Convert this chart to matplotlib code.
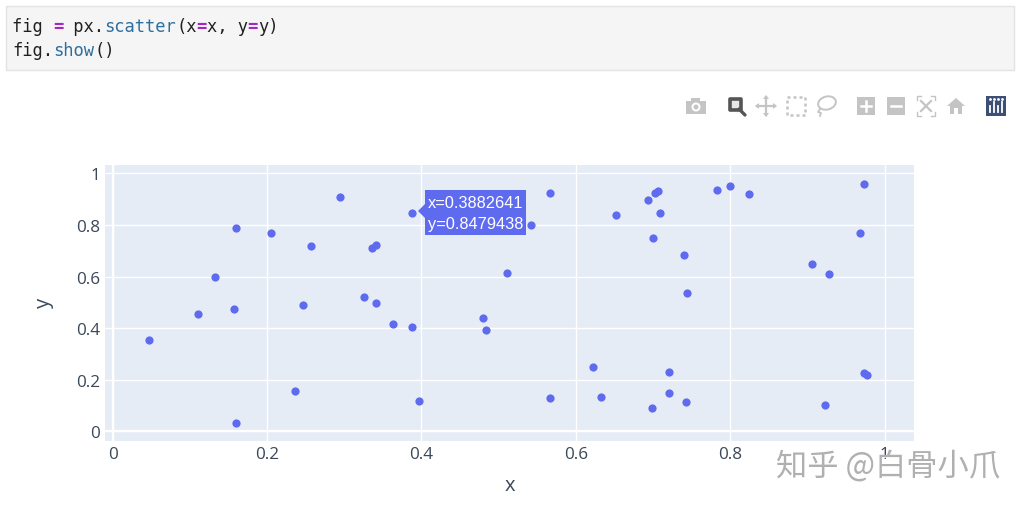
import matplotlib
matplotlib.use("Agg")
import matplotlib.pyplot as plt
from matplotlib.patches import Rectangle, Circle, Polygon, Ellipse

# values
x = [0.047, 0.110, 0.133, 0.157, 0.160, 0.160, 0.205, 0.236, 0.247, 0.257,
     0.295, 0.325, 0.336, 0.341, 0.341, 0.363, 0.388, 0.3882641, 0.397, 0.480,
     0.483, 0.511, 0.542, 0.566, 0.567, 0.622, 0.633, 0.652, 0.694, 0.698,
     0.700, 0.703, 0.707, 0.709, 0.720, 0.721, 0.740, 0.743, 0.744, 0.783,
     0.800, 0.824, 0.906, 0.923, 0.928, 0.968, 0.973, 0.973, 0.977]
y = [0.355, 0.455, 0.600, 0.475, 0.787, 0.033, 0.767, 0.158, 0.490, 0.717,
     0.907, 0.520, 0.710, 0.723, 0.498, 0.417, 0.405, 0.8479438, 0.118, 0.440,
     0.393, 0.615, 0.798, 0.925, 0.130, 0.250, 0.133, 0.840, 0.897, 0.090,
     0.750, 0.925, 0.933, 0.847, 0.230, 0.148, 0.685, 0.115, 0.538, 0.937,
     0.950, 0.920, 0.650, 0.103, 0.610, 0.767, 0.957, 0.228, 0.220]

x_ticks = [0, 0.2, 0.4, 0.6, 0.8, 1]
y_ticks = [0, 0.2, 0.4, 0.6, 0.8, 1]
tick_labels = ["0", "0.2", "0.4", "0.6", "0.8", "1"]

code_line1 = [("fig ", "#212121"), ("=", "#a626c4"), (" px.", "#212121"), ("scatter", "#2f6f9f"),
              ("(x", "#212121"), ("=", "#a626c4"), ("x, y", "#212121"), ("=", "#a626c4"), ("y)", "#212121")]
code_line2 = [("fig.", "#212121"), ("show", "#2f6f9f"), ("()", "#212121")]

W, H = 1024, 510
BLUE = "#5f6bef"
INK = "#3a4859"
GREY = "#c4c4c4"

fig = plt.figure(figsize=(W / 100, H / 100), dpi=100, facecolor="white")

# plot area
ax = fig.add_axes([105 / W, 1 - 442 / H, 809 / W, 276 / H], facecolor="#e5ecf6")
ax.scatter(x, y, s=35, color=BLUE, linewidths=0, zorder=3)
ax.set_xlim(-0.0100, 1.0380)
ax.set_ylim(-0.0375, 1.0325)
ax.set_xticks(x_ticks, tick_labels)
ax.set_yticks(y_ticks, tick_labels)
ax.grid(True, color="white", linewidth=1)
ax.set_axisbelow(True)
ax.axhline(0, color="white", linewidth=1.6, zorder=1)
ax.axvline(0, color="white", linewidth=1.6, zorder=1)
ax.tick_params(length=0, labelsize=12.3, labelcolor=INK, pad=3.5)
for lab in ax.get_xticklabels() + ax.get_yticklabels():
    lab.set_family("Open Sans")
for s in ax.spines.values():
    s.set_visible(False)

# everything else in pixel coordinates
ui = fig.add_axes([0, 0, 1, 1], zorder=5)
ui.set_xlim(0, W)
ui.set_ylim(H, 0)
ui.axis("off")

ui.add_patch(Rectangle((5.5, 6.5), 1008, 64, facecolor="#f5f5f5", edgecolor="#e3e3e3", linewidth=1))


def code_text(parts, y_pos):
    col = 0
    for txt, c in parts:
        ui.text(12 + 10.25 * col, y_pos, txt, family="DejaVu Sans Mono", fontsize=12.3,
                color=c, va="baseline", fontweight="bold" if txt == "=" else "normal")
        col += len(txt)


code_text(code_line1, 32)
code_text(code_line2, 56)

ui.text(510, 486, "x", family="Open Sans", fontsize=14.5, color=INK, ha="center", va="center")
ui.text(44, 303, "y", family="Open Sans", fontsize=14.5, color=INK, ha="center", va="center", rotation=90)

# hover label
ui.add_patch(Polygon([(418, 212), (425, 205), (425, 191), (526, 191), (526, 236), (425, 236), (425, 219)],
                     facecolor=BLUE, edgecolor="none"))
ui.text(428, 204, "x=0.3882641", family="Liberation Sans", fontsize=11.8, color="white", va="center")
ui.text(428, 225, "y=0.8479438", family="Liberation Sans", fontsize=11.8, color="white", va="center")

# modebar: camera
ui.add_patch(Rectangle((686, 102), 20, 13, facecolor=GREY, edgecolor="none"))
ui.add_patch(Rectangle((691, 99), 9, 4, facecolor=GREY, edgecolor="none"))
ui.add_patch(Circle((696, 108), 4.5, facecolor="white", edgecolor="none"))
ui.add_patch(Circle((696, 108), 2.5, facecolor=GREY, edgecolor="none"))
# zoom
ui.plot([739, 745], [110, 116], color="#555555", lw=2.4, solid_capstyle="round")
ui.add_patch(Rectangle((729.5, 100), 11, 11, facecolor="#e8e8e8", edgecolor="#555555", linewidth=2.6, joinstyle="round"))
# pan
ui.plot([757, 775], [107, 107], color=GREY, lw=1.6)
ui.plot([766, 766], [98, 116], color=GREY, lw=1.6)
for tri in ([(755, 107), (759, 104), (759, 110)], [(777, 107), (773, 104), (773, 110)],
            [(766, 96), (763, 100), (769, 100)], [(766, 118), (763, 114), (769, 114)]):
    ui.add_patch(Polygon(tri, facecolor=GREY, edgecolor="none"))
# box select
ui.add_patch(Rectangle((787, 98), 18, 18, facecolor="none", edgecolor=GREY, linewidth=1.8, linestyle=(0, (1.2, 1.2))))
# lasso
ui.add_patch(Ellipse((827, 104), 18, 13, angle=-15, facecolor="none", edgecolor=GREY, linewidth=1.4))
ui.plot([820, 818, 821, 820], [110, 113, 114, 117], color=GREY, lw=1.3)
# zoom in / out
ui.add_patch(Rectangle((857, 98), 18, 18, facecolor=GREY, edgecolor="none"))
ui.plot([861, 871], [107, 107], color="white", lw=1.8)
ui.plot([866, 866], [102, 112], color="white", lw=1.8)
ui.add_patch(Rectangle((887, 98), 18, 18, facecolor=GREY, edgecolor="none"))
ui.plot([891, 901], [107, 107], color="white", lw=1.8)
# autoscale
ui.plot([917, 917, 921], [101, 97, 97], color=GREY, lw=1)
ui.plot([931, 935, 935], [97, 97, 101], color=GREY, lw=1)
ui.plot([917, 917, 921], [113, 117, 117], color=GREY, lw=1)
ui.plot([931, 935, 935], [117, 117, 113], color=GREY, lw=1)
ui.plot([921, 931], [102, 112], color=GREY, lw=1.6)
ui.plot([931, 921], [102, 112], color=GREY, lw=1.6)
# home
ui.add_patch(Polygon([(947, 107), (956, 99), (965, 107)], facecolor=GREY, edgecolor="none"))
ui.add_patch(Rectangle((950, 107), 12, 8, facecolor=GREY, edgecolor="none"))
ui.add_patch(Rectangle((954, 109), 4, 6, facecolor="white", edgecolor="none"))
# plotly logo
ui.add_patch(Rectangle((986, 97), 20, 20, facecolor="#3d4f75", edgecolor="none"))
for bar_x, top in zip((990, 994, 998, 1002), (107, 103, 107, 103)):
    ui.plot([bar_x, bar_x], [top, 113], color="white", lw=1.3)
    ui.plot([bar_x], [100], marker="o", ms=1, color="white")

# watermark
wm_font = ["Noto Sans CJK SC", "DejaVu Sans"]
ui.text(888.5, 467.5, "知乎 @白骨小爪", family=wm_font, fontsize=22.5, color="white", ha="center", va="center", alpha=0.8)
ui.text(887.5, 466.5, "知乎 @白骨小爪", family=wm_font, fontsize=22.5, color="#b0b0b0", ha="center", va="center")

fig.savefig("out.png", dpi=100)
